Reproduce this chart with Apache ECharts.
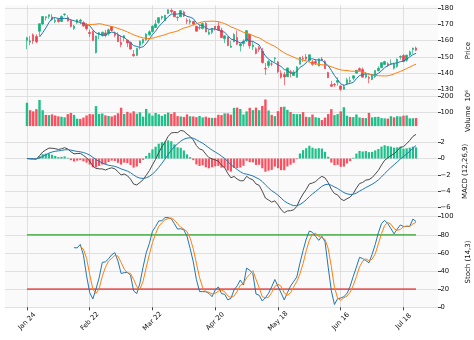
<!DOCTYPE html>
<html><head><meta charset="utf-8">
<script src="https://cdn.jsdelivr.net/npm/echarts@6/dist/echarts.min.js"></script>
<style>html,body{margin:0;padding:0;background:#fff}#c{width:474px;height:340px}</style>
</head><body><div id="c"></div>
<script>
// ---- data (AAPL daily, 2022-01-24 .. 2022-07-22) ----
const tickLabels = ['Jan 24','Feb 22','Mar 22','Apr 20','May 18','Jun 16','Jul 18'];
const tickIndex = [0,20,40,60,80,100,120];
const priceTicks = [130,140,150,160,170,180];
const volumeTicks = [100,200];
const macdTicks = [-6,-4,-2,0,2];
const stochTicks = [0,20,40,60,80,100];
const stochLevels = [80,20];

const opens = [160.02,158.98,163.50,162.45,165.71,170.16,174.01,174.75,174.48,171.68,
172.86,171.73,176.05,174.14,172.33,167.37,170.97,171.85,171.03,169.82,
164.98,165.54,152.58,163.84,163.06,164.70,164.39,168.47,164.49,163.36,
158.82,161.48,160.20,158.93,151.45,150.90,157.05,158.61,160.51,163.51,
165.51,167.99,171.06,173.88,172.17,176.69,178.55,177.84,174.03,174.57,
177.50,172.36,171.16,171.78,168.71,168.02,167.39,170.62,163.92,165.02,
168.76,168.91,166.46,161.12,162.25,155.91,159.25,161.84,156.71,158.15,
159.67,163.85,156.01,154.93,155.52,153.50,142.77,144.59,145.55,148.86,
146.85,139.88,139.09,137.79,140.81,138.43,137.39,145.39,149.07,149.90,
147.83,146.90,147.03,144.35,148.58,147.08,140.28,132.87,133.13,134.29,
132.08,130.07,133.42,134.79,136.82,139.90,142.70,142.13,137.46,137.25,
136.04,137.77,141.35,143.29,145.26,145.67,145.76,142.99,144.08,149.78,
150.74,147.92,151.12,154.50,155.39];
const highs = [162.30,162.76,164.39,163.84,170.35,175.00,174.84,175.88,176.24,174.10,
173.95,175.35,176.65,175.48,173.08,169.58,172.95,173.34,171.91,170.54,
166.69,166.15,162.85,165.12,165.42,166.60,167.36,168.91,165.55,165.02,
162.88,163.41,160.39,159.28,154.12,155.57,160.00,161.00,164.48,166.35,
169.42,172.64,174.14,175.28,175.73,179.01,179.61,178.03,174.88,178.49,
178.30,173.63,173.36,171.78,169.03,169.87,171.04,171.27,166.60,167.82,
168.88,171.53,167.87,163.17,162.34,159.79,164.52,166.20,158.23,160.71,
166.48,164.08,159.44,155.83,156.74,155.45,146.20,148.10,147.52,149.77,
147.36,141.66,140.70,143.26,141.97,141.79,144.34,149.68,150.66,151.74,
151.27,147.97,148.57,149.00,149.87,147.95,140.76,135.20,133.89,137.34,
132.39,133.08,137.06,137.76,138.59,141.91,143.49,143.42,140.67,138.37,
139.04,141.61,144.12,146.55,147.55,146.64,148.45,146.45,148.95,150.86,
151.57,151.23,153.72,155.57,156.28];
const lows = [154.70,157.02,157.82,158.28,162.80,169.51,172.31,173.33,172.12,170.68,
170.95,171.43,174.90,171.55,168.04,166.56,170.25,170.05,168.47,166.19,
162.15,159.75,152.00,160.87,162.43,161.97,162.95,165.55,162.10,159.04,
155.80,159.41,155.98,154.50,150.10,150.38,154.46,157.63,159.76,163.01,
164.91,167.65,170.21,172.75,172.00,176.34,176.70,174.40,171.94,174.44,
174.42,170.13,169.85,169.20,165.50,166.64,166.77,165.04,163.57,163.91,
166.10,165.91,161.50,158.46,156.72,155.38,158.93,157.25,153.27,156.32,
159.26,154.95,154.18,151.49,152.93,145.81,138.80,143.11,144.18,146.68,
139.90,136.60,132.61,137.65,137.33,138.34,137.14,145.26,146.84,147.68,
146.86,144.46,144.90,144.10,147.46,142.53,137.06,131.44,131.48,132.16,
129.04,129.81,133.32,133.91,135.63,139.77,140.97,137.32,136.67,133.77,
135.66,136.93,141.08,143.28,145.00,143.78,145.05,142.12,143.25,148.20,
146.70,146.91,150.37,151.94,153.41];
const closes = [161.62,159.78,159.69,159.22,170.33,174.78,174.61,175.84,172.90,172.39,
171.66,174.83,176.28,172.12,168.64,168.88,172.79,172.55,168.88,167.30,
164.32,160.07,162.74,164.85,165.12,163.20,166.56,166.23,163.17,159.30,
157.44,162.95,158.52,154.73,150.62,155.09,159.59,160.62,163.98,165.38,
168.82,170.21,174.07,174.72,175.60,178.96,177.77,174.61,174.31,178.44,
175.06,171.83,172.14,170.09,165.75,167.66,170.40,165.29,165.07,167.40,
167.23,166.42,161.79,162.88,156.80,156.57,163.64,157.65,157.96,159.48,
166.02,156.77,157.28,152.06,154.51,146.50,142.56,147.11,145.54,149.24,
140.82,137.35,137.59,143.11,140.36,140.52,143.78,149.64,148.84,148.71,
151.21,145.38,146.14,148.71,147.96,142.64,137.13,131.88,132.76,135.43,
130.06,131.56,135.87,135.35,138.27,141.66,141.66,137.44,139.23,136.72,
138.93,141.56,142.92,146.35,147.04,144.87,145.86,145.49,148.47,150.17,
147.07,151.00,153.04,155.35,154.09];
const volumes = [162.3,115.8,108.3,121.9,179.9,115.5,86.2,84.9,89.4,82.5,
77.3,74.8,71.3,90.9,98.7,86.2,62.5,61.2,69.6,82.8,
91.2,90.0,141.1,92.0,95.1,83.5,79.7,76.7,83.8,96.4,
131.1,91.5,105.3,97.0,108.7,93.0,102.3,75.6,123.5,95.8,
81.5,98.1,90.1,80.5,90.4,100.6,92.6,103.0,78.8,76.5,
73.4,89.1,77.6,76.6,72.2,79.3,70.6,75.3,69.0,67.7,
67.9,87.2,84.9,96.0,95.6,88.1,130.2,131.7,123.1,89.0,
108.3,130.5,116.1,131.6,115.4,142.7,182.6,114.0,86.6,78.3,
109.7,136.1,137.4,117.7,104.1,92.5,90.6,91.0,103.7,74.3,
72.3,88.6,71.6,67.8,54.0,69.5,91.4,122.2,84.8,91.5,
108.1,134.1,81.0,73.4,72.4,89.1,70.2,67.1,66.2,99.0,
71.1,73.4,74.1,66.3,64.5,63.1,78.0,71.2,78.1,76.3,
81.4,83.0,64.8,65.1,66.7];
const sma5 = [null,null,null,null,
162.13,164.76,167.73,170.96,173.69,174.10,173.48,173.52,173.61,173.46,
172.71,172.15,171.74,171.00,170.35,170.08,169.17,166.62,164.66,163.86,
163.42,163.20,164.49,165.19,164.86,163.69,162.54,161.82,160.28,158.59,
156.85,156.38,155.71,156.13,157.98,160.93,163.68,165.80,168.49,170.64,
172.68,174.71,176.22,176.33,176.25,176.82,176.04,174.85,174.36,173.51,
170.97,169.49,169.21,167.84,166.83,167.16,167.08,166.28,165.58,165.14,
163.02,160.89,160.34,159.51,158.52,159.06,160.95,159.58,159.50,158.32,
157.33,153.42,150.58,148.55,147.24,146.19,145.05,144.01,142.11,141.62,
139.85,139.79,141.07,143.48,144.63,146.30,148.44,148.76,148.06,148.03,
147.88,146.17,144.52,141.66,138.47,135.97,133.45,132.34,133.14,133.65,
134.22,136.54,138.56,138.88,139.65,139.34,138.80,138.78,139.87,141.30,
143.36,144.55,145.41,145.92,146.35,146.97,147.41,148.44,149.95,151.33,
152.11];
const sma20 = [null,null,null,null,null,null,null,null,null,null,
null,null,null,null,null,null,null,null,null,169.75,
169.89,169.90,170.06,170.34,170.08,169.50,169.10,168.62,168.13,167.47,
166.76,166.17,165.28,164.41,163.51,162.82,162.16,161.57,161.32,161.22,
161.45,161.96,162.52,163.02,163.54,164.33,164.89,165.31,165.86,166.82,
167.70,168.15,168.83,169.60,170.35,170.98,171.52,171.75,171.81,171.91,
171.83,171.64,171.03,170.44,169.50,168.38,167.67,166.82,166.00,165.06,
164.60,163.85,163.11,162.21,161.64,160.59,159.19,158.29,157.31,156.40,
155.08,153.63,152.42,151.43,150.61,149.80,148.81,148.41,147.95,147.42,
146.68,146.11,145.55,145.38,145.05,144.86,144.59,143.83,143.19,142.50,
141.96,141.67,141.58,141.20,141.09,141.15,141.04,140.43,139.95,139.35,
138.74,138.55,138.39,138.27,138.22,138.33,138.77,139.45,140.24,140.97,
141.82,142.80,143.66,144.66,145.45];
const macdLine = [0,-0.042,-0.056,-0.078,0.354,0.798,1.060,1.278,1.264,1.209,
1.113,1.202,1.333,1.174,0.832,0.576,0.617,0.625,0.388,0.098,
-0.324,-0.933,-1.212,-1.270,-1.281,-1.410,-1.256,-1.144,-1.265,-1.625,
-2.023,-1.905,-2.116,-2.538,-3.145,-3.250,-2.957,-2.616,-2.063,-1.501,
-0.782,-0.101,0.731,1.424,2.019,2.722,3.149,3.202,3.183,3.455,
3.372,3.012,2.719,2.295,1.591,1.173,1.052,0.536,0.109,-0.041,
-0.171,-0.337,-0.831,-1.123,-1.823,-2.370,-2.206,-2.531,-2.733,-2.738,
-2.189,-2.472,-2.624,-3.130,-3.296,-4.028,-4.868,-5.109,-5.364,-5.209,
-5.698,-6.294,-6.670,-6.448,-6.420,-6.313,-5.896,-5.035,-4.367,-3.805,
-3.121,-3.015,-2.836,-2.459,-2.195,-2.389,-2.953,-3.779,-4.313,-4.470,
-4.969,-5.181,-4.947,-4.749,-4.307,-3.641,-3.078,-2.938,-2.653,-2.599,
-2.351,-1.919,-1.452,-0.794,-0.216,0.067,0.367,0.568,0.957,1.387,
1.460,1.814,2.234,2.721,2.972];
const macdSignal = [0,-0.023,-0.037,-0.051,0.070,0.267,0.468,0.662,0.801,0.893,
0.941,0.997,1.068,1.090,1.037,0.942,0.875,0.824,0.736,0.607,
0.419,0.147,-0.126,-0.356,-0.542,-0.716,-0.824,-0.888,-0.964,-1.096,
-1.281,-1.406,-1.548,-1.746,-2.026,-2.271,-2.408,-2.450,-2.373,-2.199,
-1.916,-1.553,-1.096,-0.592,-0.070,0.488,1.020,1.457,1.802,2.133,
2.381,2.507,2.549,2.498,2.317,2.088,1.881,1.612,1.311,1.041,
0.799,0.572,0.291,0.008,-0.358,-0.760,-1.049,-1.346,-1.623,-1.846,
-1.915,-2.026,-2.146,-2.343,-2.533,-2.832,-3.239,-3.613,-3.964,-4.213,
-4.510,-4.866,-5.227,-5.471,-5.661,-5.792,-5.812,-5.657,-5.399,-5.080,
-4.688,-4.354,-4.050,-3.732,-3.425,-3.218,-3.165,-3.288,-3.493,-3.688,
-3.944,-4.191,-4.342,-4.424,-4.401,-4.249,-4.015,-3.800,-3.571,-3.377,
-3.172,-2.921,-2.627,-2.260,-1.851,-1.467,-1.100,-0.766,-0.421,-0.059,
0.245,0.559,0.894,1.259,1.602];
const macdHist = [0,-0.019,-0.019,-0.027,0.284,0.531,0.592,0.616,0.463,0.316,
0.172,0.205,0.265,0.084,-0.205,-0.366,-0.258,-0.199,-0.348,-0.509,
-0.743,-1.080,-1.086,-0.914,-0.739,-0.694,-0.432,-0.256,-0.301,-0.529,
-0.742,-0.499,-0.568,-0.792,-1.119,-0.979,-0.549,-0.166,0.310,0.698,
1.134,1.452,1.827,2.016,2.089,2.234,2.129,1.745,1.381,1.322,
0.991,0.505,0.170,-0.203,-0.726,-0.915,-0.829,-1.076,-1.202,-1.082,
-0.970,-0.909,-1.122,-1.131,-1.465,-1.610,-1.157,-1.185,-1.110,-0.892,
-0.274,-0.446,-0.478,-0.787,-0.763,-1.196,-1.629,-1.496,-1.400,-0.996,
-1.188,-1.428,-1.443,-0.977,-0.759,-0.521,-0.084,0.622,1.032,1.275,
1.567,1.339,1.214,1.273,1.230,0.829,0.212,-0.491,-0.820,-0.782,
-1.025,-0.990,-0.605,-0.325,0.094,0.608,0.937,0.862,0.918,0.778,
0.821,1.002,1.175,1.466,1.635,1.534,1.467,1.334,1.378,1.446,
1.215,1.255,1.340,1.462,1.370];
const stochK = [null,null,null,null,null,null,null,null,null,null,
null,null,null,null,null,65.8,65.6,69.4,57.5,34.7,
16.2,9.2,20.2,32.5,49.6,50.2,53.5,58.0,60.3,51.1,
37.3,38.2,38.6,35.4,18.0,15.1,26.6,44.3,60.1,70.3,
84.0,89.1,95.3,95.6,99.0,99.0,97.7,92.2,86.3,86.8,
85.5,78.5,65.0,50.3,30.7,17.4,17.3,17.2,15.3,11.7,
19.3,22.5,15.1,14.4,8.2,9.8,19.2,23.7,30.1,24.6,
43.2,41.0,37.0,14.7,13.3,7.0,10.6,15.6,22.6,30.7,
23.1,15.8,8.2,16.1,23.4,28.4,33.5,48.8,62.7,75.3,
84.2,82.7,78.2,73.9,78.4,72.3,44.4,18.4,3.1,9.5,
10.2,11.8,15.2,23.2,34.3,44.4,55.2,53.8,51.6,49.1,
58.5,69.4,82.3,92.5,96.0,92.4,86.9,81.1,86.3,90.9,
89.2,89.2,89.4,97.4,94.7];
const stochD = [null,null,null,null,null,null,null,null,null,null,
null,null,null,null,null,null,null,66.9,64.2,53.9,
36.1,20.0,15.2,20.6,34.1,44.1,51.1,53.9,57.3,56.5,
49.6,42.2,38.0,37.4,30.7,22.8,19.9,28.7,43.7,58.2,
71.5,81.1,89.5,93.3,96.6,97.9,98.6,96.3,92.1,88.4,
86.2,83.6,76.3,64.6,48.7,32.8,21.8,17.3,16.6,14.7,
15.4,17.8,19.0,17.3,12.6,10.8,12.4,17.6,24.3,26.1,
32.6,36.3,40.4,30.9,21.7,11.7,10.3,11.1,16.3,23.0,
25.5,23.2,15.7,13.4,15.9,22.6,28.4,36.9,48.3,62.3,
74.1,80.7,81.7,78.3,76.8,74.9,65.0,45.0,22.0,10.3,
7.6,10.5,12.4,16.7,24.2,34.0,44.6,51.1,53.5,51.5,
53.1,59.0,70.1,81.4,90.3,93.6,91.8,86.8,84.8,86.1,
88.8,89.8,89.3,92.0,93.8];

// ---- layout / style ----
const PAD = 7;                 // empty slots on each side of the candles
const N = closes.length;
const UP = '#14b07a', DOWN = '#f0414f';
const VUP = '#1ebf88', VDOWN = '#fa4f5f';
const FACE = '#fafafa', GRIDC = '#d9d9d9', TXT = '#101010';
const FONT = 'DejaVu Sans', FS = 6.8, NFS = 7;

const cats = [];
for (let k = 0; k < N + 2 * PAD; k++) cats.push(String(k - PAD));
function padded(arr, fill) {
  const out = [];
  for (let k = 0; k < PAD; k++) out.push(fill);
  arr.forEach(v => out.push(v == null ? fill : v));
  for (let k = 0; k < PAD; k++) out.push(fill);
  return out;
}
const candleData = padded(opens.map((o, i) => [o, closes[i], lows[i], highs[i]]), ['-','-','-','-']);
const volData = padded(volumes.map((v, i) => {
  const up = i === 0 ? closes[0] >= opens[0] : closes[i] >= closes[i - 1];
  return { value: v, itemStyle: { color: up ? VUP : VDOWN } };
}), '-');
const histData = padded(macdHist.map(v => ({ value: v, itemStyle: { color: v >= 0 ? VUP : VDOWN } })), '-');

const isTick = idx => tickIndex.indexOf(idx - PAD) >= 0;
const panels = [
  { top: 5.3,   height: 90.6, min: 125.94, max: 181.66, ticks: priceTicks,  name: 'Price' },
  { top: 95.9,  height: 30.2, min: 16.25,  max: 205,    ticks: volumeTicks, name: 'Volume  10\u2076' },
  { top: 126.1, height: 90.6, min: -7.16,  max: 3.99,   ticks: macdTicks,   name: 'MACD (12,26,9)' },
  { top: 216.7, height: 90.6, min: 0,      max: 100,    ticks: stochTicks,  name: 'Stoch (14,3)' }
];
const fmt = v => (v < 0 ? '\u2212' + Math.abs(v) : String(v));

const option = {
  animation: false,
  backgroundColor: '#ffffff',
  textStyle: { fontFamily: FONT },
  grid: panels.map(p => ({ left: 5, right: 36, top: p.top, height: p.height, show: true,
    backgroundColor: FACE, borderWidth: 0, containLabel: false, outerBoundsMode: 'none' })),
  xAxis: panels.map((p, gi) => ({
    type: 'category', gridIndex: gi, data: cats, boundaryGap: false,
    axisLine: { show: false },
    axisTick: { show: gi === 3, interval: (i) => isTick(i), length: 3, lineStyle: { color: TXT, width: 0.8 } },
    axisLabel: { show: gi === 3, interval: (i) => isTick(i), rotate: 45, align: 'center', verticalAlign: 'middle',
      margin: 14, fontSize: FS, color: TXT, fontFamily: FONT,
      formatter: (v, i) => { const t = tickIndex.indexOf(i - PAD); return t >= 0 ? tickLabels[t] : ''; } },
    splitLine: { show: true, interval: (i) => isTick(i), lineStyle: { color: GRIDC, width: 0.8 } }
  })),
  yAxis: panels.map((p, gi) => ({
    type: 'value', gridIndex: gi, position: 'right', min: p.min, max: p.max,
    minInterval: p.ticks[1] - p.ticks[0],
    maxInterval: p.ticks[1] - p.ticks[0],
    name: p.name, nameLocation: 'middle', nameRotate: 90, nameGap: 22,
    nameTextStyle: { fontSize: NFS, color: TXT, fontFamily: FONT },
    axisLine: { show: false },
    axisTick: { show: true, length: 3, customValues: p.ticks, lineStyle: { color: TXT, width: 0.8 } },
    axisLabel: { show: true, customValues: p.ticks, margin: 2.5, fontSize: FS, color: TXT, fontFamily: FONT, formatter: fmt },
    splitLine: { show: true, lineStyle: { color: GRIDC, width: 0.8 } }
  })),
  series: [
    { type: 'candlestick', xAxisIndex: 0, yAxisIndex: 0, data: candleData, barWidth: 2,
      itemStyle: { color: UP, color0: DOWN, borderColor: UP, borderColor0: DOWN, borderWidth: 0.7 } },
    { type: 'line', xAxisIndex: 0, yAxisIndex: 0, data: padded(sma5, '-'), symbol: 'none',
      lineStyle: { color: '#1f77b4', width: 1 } },
    { type: 'line', xAxisIndex: 0, yAxisIndex: 0, data: padded(sma20, '-'), symbol: 'none',
      lineStyle: { color: '#ff7f0e', width: 1 } },
    { type: 'bar', xAxisIndex: 1, yAxisIndex: 1, data: volData, barWidth: 2.4 },
    { type: 'bar', xAxisIndex: 2, yAxisIndex: 2, data: histData, barWidth: 2.2 },
    { type: 'line', xAxisIndex: 2, yAxisIndex: 2, data: padded(macdLine, '-'), symbol: 'none',
      lineStyle: { color: '#4a4a4a', width: 1 } },
    { type: 'line', xAxisIndex: 2, yAxisIndex: 2, data: padded(macdSignal, '-'), symbol: 'none',
      lineStyle: { color: '#1f77b4', width: 1 } },
    { type: 'line', xAxisIndex: 3, yAxisIndex: 3, data: [[PAD, stochLevels[0]], [PAD + N - 1, stochLevels[0]]], symbol: 'none',
      lineStyle: { color: '#2ca02c', width: 1.2 } },
    { type: 'line', xAxisIndex: 3, yAxisIndex: 3, data: [[PAD, stochLevels[1]], [PAD + N - 1, stochLevels[1]]], symbol: 'none',
      lineStyle: { color: '#e85c5c', width: 1.8 } },
    { type: 'line', xAxisIndex: 3, yAxisIndex: 3, data: padded(stochK, '-'), symbol: 'none',
      lineStyle: { color: '#1f77b4', width: 1 } },
    { type: 'line', xAxisIndex: 3, yAxisIndex: 3, data: padded(stochD, '-'), symbol: 'none',
      lineStyle: { color: '#ff7f0e', width: 1 } }
  ]
};
const chart = echarts.init(document.getElementById('c'), null, { renderer: 'canvas', width: 474, height: 340 });
chart.setOption(option);
</script>
</body></html>
